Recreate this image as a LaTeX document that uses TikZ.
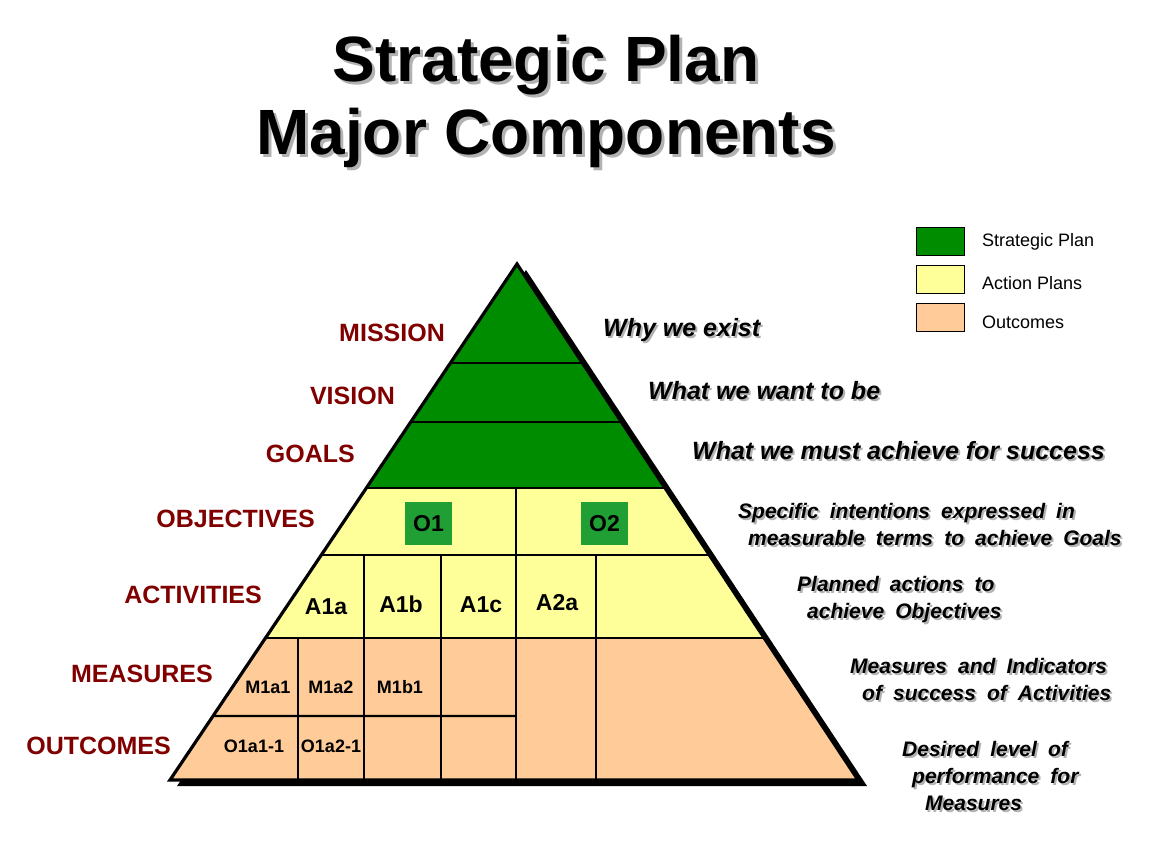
\documentclass[tikz,border=0pt]{standalone}
\usepackage{fontspec}
\setmainfont{Liberation Sans}
\newfontfamily\widesans[WordSpace=1.9]{Liberation Sans}
\usetikzlibrary{calc}

\definecolor{stratgreen}{RGB}{0,140,0}
\definecolor{objgreen}{RGB}{32,160,52}
\definecolor{actyellow}{RGB}{255,255,153}
\definecolor{outorange}{RGB}{255,204,153}
\definecolor{lvlred}{RGB}{128,0,0}

% text with a soft grey copy behind it
\newcommand\shadowtext[4]{%
  \node[#3, text=black!30] (#1-s) at ($(#2)+(2,2)$) {#4};
  \node[#3] (#1) at (#2) {#4};}

\tikzset{
  every node/.style={inner sep=0pt},
  lvl/.style={anchor=base east, text=lvlred, font=\fontsize{25}{30}\selectfont\bfseries},
  why/.style={anchor=base west, font=\fontsize{25}{30}\selectfont\bfseries\itshape},
  note/.style={anchor=base west, font=\fontsize{21}{27}\selectfont\widesans\bfseries\itshape},
  headline/.style={anchor=base, font=\fontsize{64}{70}\selectfont\bfseries},
  cell/.style={font=\fontsize{18}{22}\selectfont\bfseries},
  act/.style={font=\fontsize{23}{28}\selectfont\bfseries},
  obox/.style={fill=objgreen, minimum width=47pt, minimum height=43pt, font=\fontsize{23}{28}\selectfont\bfseries},
  key/.style={draw=black, line width=0.8pt, minimum width=48pt, minimum height=28pt},
  keytext/.style={anchor=base west, font=\fontsize{18}{22}\selectfont},
  band/.style={line width=2.4pt},
}

\begin{document}
\begin{tikzpicture}[x=1pt, y=-1pt]
    \useasboundingbox (0,0) rectangle (1152,864);

    % title
    \node[headline, text=black!30] (title1-s) at (549,85) {Strategic Plan};
    \node[headline] (title1) at (546,82) {Strategic Plan};
    \node[headline, text=black!30] (title2-s) at (549,158) {Major Components};
    \node[headline] (title2) at (546,155) {Major Components};

    % pyramid corners and the points where the bands meet its sides
    \coordinate (apex) at (517,264);
    \coordinate (bl) at (170,780);
    \coordinate (br) at (858,780);
    \foreach \n/\t in {1/0.1919, 2/0.3062, 3/0.4341, 4/0.5640, 5/0.7248, 6/0.8760} {
        \coordinate (l\n) at ($(apex)!\t!(bl)$);
        \coordinate (r\n) at ($(apex)!\t!(br)$);
    }

    % shadow
    \fill[black] ($(apex)+(9,6)$) -- ($(bl)+(7,6)$) -- ($(br)+(9,6)$) -- cycle;

    % bands
    \fill[stratgreen] (apex) -- (l3) -- (r3) -- cycle;
    \fill[actyellow] (l3) -- (r3) -- (r5) -- (l5) -- cycle;
    \fill[outorange] (l5) -- (r5) -- (br) -- (bl) -- cycle;

    % band borders
    \foreach \n in {1,...,5}
        \draw[band] (l\n) -- (r\n);
    \draw[band] (l6) -- (516,716);

    % cells
    \draw[band] (516,488) -- (516,780);
    \draw[band] (298,638) -- (298,780);
    \foreach \x in {364,441,596}
        \draw[band] (\x,555) -- (\x,780);

    % outline
    \draw[line width=3.2pt, line join=miter] (apex) -- (bl) -- (br) -- cycle;

    % objectives
    \node[obox] (o1) at (428.5,523.5) {O1};
    \node[obox] (o2) at (604.5,523.5) {O2};

    % activities
    \node[act] (a1a) at (326,607) {A1a};
    \node[act] (a1b) at (401,604) {A1b};
    \node[act] (a1c) at (481,605) {A1c};
    \node[act] (a2a) at (557,603) {A2a};

    % measures and outcomes
    \node[cell] (m1a1) at (268,687) {M1a1};
    \node[cell] (m1a2) at (331,687) {M1a2};
    \node[cell] (m1b1) at (400,687) {M1b1};
    \node[cell] (o1a1) at (254,746) {O1a1-1};
    \node[cell] (o1a2) at (331,746) {O1a2-1};

    % levels
    \node[lvl] (mission) at (445,341) {MISSION};
    \node[lvl] (vision) at (395,404) {VISION};
    \node[lvl] (goals) at (355,462) {GOALS};
    \node[lvl] (objectives) at (315,527) {OBJECTIVES};
    \node[lvl] (activities) at (262,603) {ACTIVITIES};
    \node[lvl] (measures) at (213,682) {MEASURES};
    \node[lvl] (outcomes) at (171,754) {OUTCOMES};

    % meanings
    \shadowtext{whyexist}{603,336}{why}{Why we exist}
    \shadowtext{wantbe}{648,399}{why}{What we want to be}
    \shadowtext{mustdo}{692,459}{why}{What we must achieve for success}
    \shadowtext{objA}{738,518.5}{note}{Specific intentions expressed in}
    \shadowtext{objB}{748,545.5}{note}{measurable terms to achieve Goals}
    \shadowtext{actA}{797,591.5}{note}{Planned actions to}
    \shadowtext{actB}{807,618.5}{note}{achieve Objectives}
    \shadowtext{meaA}{850,673.5}{note}{Measures and Indicators}
    \shadowtext{meaB}{862,700.5}{note}{of success of Activities}
    \shadowtext{outA}{902,756.5}{note}{Desired level of}
    \shadowtext{outB}{912,783.5}{note}{performance for}
    \shadowtext{outC}{925,810.5}{note}{Measures}

    % key
    \node[key, fill=stratgreen] (keygreen) at (940,241) {};
    \node[key, fill=actyellow] (keyyellow) at (940,279.5) {};
    \node[key, fill=outorange] (keyorange) at (940,317.5) {};
    \node[keytext] (keygreen-t) at (982,246.5) {Strategic Plan};
    \node[keytext] (keyyellow-t) at (982,289.5) {Action Plans};
    \node[keytext] (keyorange-t) at (982,328.5) {Outcomes};
\end{tikzpicture}
\end{document}
